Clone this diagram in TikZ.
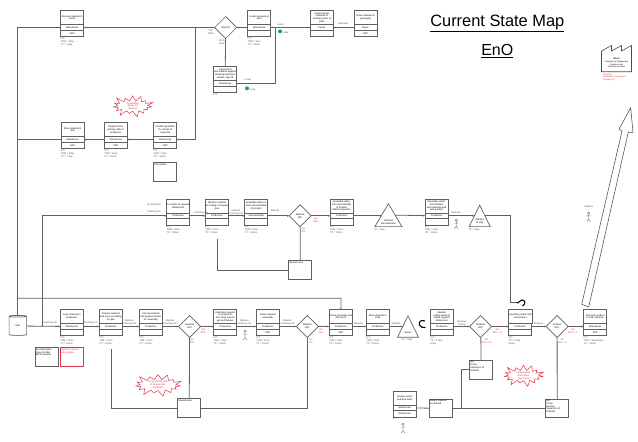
\documentclass[tikz,border=0pt]{standalone}
\usepackage{fontspec}
\setmainfont{Liberation Sans}
\usepackage{xcolor}
\usetikzlibrary{
  arrows.meta, positioning, calc, shapes.geometric, shapes.symbols
}
\definecolor{mapred}{HTML}{DC3545}
\definecolor{mapgreen}{HTML}{1E9E5A}
\newcommand{\tinyfont}{\fontsize{2.4}{2.8}\selectfont}
% place, name, title, middle strip, bottom strip, note
\newcommand{\procbox}[6]{
  \node[proctitle, #1] (#2) {#3};
  \node[procstrip, minimum height=5.6pt, below=0pt of #2] (#2m) {#4};
  \node[procstrip, minimum height=6.4pt, below=0pt of #2m] (#2b) {#5};
  \node[procnote, below=1pt of #2b.south west, anchor=north west] (#2n) {#6};
}
\newcommand{\topbox}[1]{\parbox[c][17pt][t]{21.5pt}{\raggedright #1}}
\tikzset{
  person/.pic={
    \draw[line width=.35pt, black!60] (0,-3.6) circle (1.3)
      (0,-2.3) -- (0,2.2) (-2,-.8) -- (2,-.8) (-1.8,5) -- (0,2.2) -- (1.8,5);
  }
}
\begin{document}
\begin{tikzpicture}[
  x=1pt, y=-1pt,
  every node/.style={font=\tinyfont, align=center, inner sep=0pt, outer sep=0pt},
  proctitle/.style={draw=black!62, line width=.7pt, fill=white, minimum width=23pt,
                    minimum height=14pt, anchor=north west},
  procstrip/.style={draw=black!62, line width=.7pt, fill=white, minimum width=23pt},
  procnote/.style={align=left, text=black!70},
  plainbox/.style={draw=black!62, line width=.7pt, fill=white, minimum width=23pt,
                   minimum height=18.7pt, anchor=north west, align=left},
  check/.style={diamond, draw=black!62, line width=.7pt, fill=white, aspect=1,
                minimum width=22pt, minimum height=22pt},
  stock/.style={isosceles triangle, isosceles triangle stretches, shape border rotate=90,
                draw=black!62, line width=.7pt, fill=white, anchor=lower side,
                minimum width=27pt, minimum height=21.5pt},
  burst/.style={starburst, starburst points=15, starburst point height=7pt,
                draw=mapred, line width=.5pt, text=mapred, fill=white,
                minimum width=44pt, minimum height=21pt},
  tag/.style={text=black!70},
  redtag/.style={text=mapred},
  line/.style={draw=black!62, line width=.8pt},
  arr/.style={line, -{Latex[length=2pt, width=2pt]}},
  dot/.style={circle, fill=mapgreen, minimum size=4pt},
]
  \useasboundingbox (0,0) rectangle (638,442);

  % Title
  \node[font=\fontsize{16.4}{20}\selectfont] (title) at (497.3,23.5) {\underline{Current State Map}};
  \node[font=\fontsize{16}{20}\selectfont] (plant) at (497.3,51) {\underline{EnO}};

  % Top row, runs right to left
  \procbox{at={(60.7,10.7)}}{a1}{Receive material to\\stores}{Warehouse}{SAP}{P/T:\\TRM = 1day\\TP = 1 day}
  \node[check] (d1) at (225.7,27.55) {Inspect?};
  \procbox{at={(247.7,10.7)}}{b1}{Goods received at\\store}{Warehouse}{}{P/T:\\TRM = 4min\\TP = 10min}
  \procbox{right=39.6pt of b1}{b2}{Carrier brings\\materials to\\receiving dock at\\plant}{Carrier}{}{}
  \procbox{right=20.7pt of b2}{b3}{Order material at\\packaging}{Buyer}{SAP}{}
  \procbox{at={(213.7,66.7)}}{c1}{Inspect and\\test material against\\drawings and spec\\sheets; sign off}{Warehouse}{}{P/T:}
  \node[tag] (mail1) at (280.3,25) {e-mail};
  \node[tag] (mail2) at (247.7,80) {e-mail};
  \node[tag] (ship1) at (343.3,24) {Shipment};
  \node[tag] (yes1) at (210.7,32) {Yes\\100\%};
  \node[tag] (no1) at (221.7,42) {100\%\\Pass};
  \node[dot] (dot1) at (280,31.3) {};
  \node[dot] (dot2) at (247,88.3) {};
  \node[tag, right=.5pt of dot1, yshift=-1.5pt] (dotlab1) {1 day};
  \node[tag, right=.5pt of dot2, yshift=-1.5pt] (dotlab2) {1 day};
  \coordinate (split) at (195.7,27.55);
  \coordinate (merge) at (275,27.55);

  \draw[arr] (b3m) -- (b2m);
  \draw[arr] (b2m) -- (b1m);
  \draw[arr] (b1m) -- (d1);
  \draw[arr] (d1) -- (a1m);
  \draw[line] (d1) -- (c1);
  \draw[line] (c1m) -| (merge);

  % Second row
  \procbox{at={(61,122.7)}}{r1}{Store material in\\rack}{Warehouse}{SAP}{P/T:\\TRM = 1day\\TP = 1 day}
  \procbox{right=20.3pt of r1}{r2}{Prepare kit for\\picking order to\\production}{Warehouse}{SAP}{P/T:\\TRM = 5min\\TP = 10min}
  \procbox{right=26.4pt of r2}{r3}{Confirm quantities\\for receipt of\\materials}{Warehouse}{SAP}{P/T:\\TRM = 4min\\TP = 10min}
  \node[plainbox] (n1) at (153.7,162.7) {\topbox{Information}};
  \node[burst] (b1burst) at (132.7,106) {Scheduling\\delays on\\inbound};
  \draw[arr] (split) |- (r3m);
  \draw[arr] (r3m) -- (r2m);
  \draw[arr] (r2m) -- (r1m);

  % Third row
  \procbox{at={(166.7,199)}}{q1}{Cut rollers to required\\dimensions}{Production}{}{P/T:\\TRM = 5min\\TP = 10min}
  \procbox{right=15.7pt of q1}{q2}{Machine material\\according to drawing\\spec}{Production}{}{P/T:\\TRM = 5min\\TP = 10min}
  \procbox{right=16.3pt of q2}{q3}{Assemble rollers to\\form sub-assembly\\of product}{Sub-assembly}{}{P/T:\\TRM = 5min\\TP = 10min}
  \node[check, right=21.4pt of q3m] (dq) {Material\\OK?};
  \procbox{at={(330.2,199)}}{q4}{Assemble rollers\\into sub-assembly\\of product\\before inspection}{Production}{}{P/T:\\TRM = 5min\\TP = 10min}
  \node[stock] (t1) at (388.4,226.6) {Finished\\sub-assembly};
  \procbox{at={(425,199)}}{q5}{Assemble rollers\\into finished\\sub-assembly and\\end product}{Production}{}{P/T:\\TRM = 5min\\TP = 10min}
  \node[stock, minimum width=21pt] (t2) at (479.7,226.6) {Waiting\\to ship};
  \node[plainbox] (rw1) at (288.7,260.7) {\topbox{Rework area}};
  \pic at (456.3,224) {person};
  \pic at (588.7,216.7) {person};
  \node[tag] (log1) at (588.7,207) {Logistics};
  \node[tag] (fg1) at (154,205) {FG Inventory};
  \node[tag] (roll1) at (154,212) {Finishing roll};
  \node[tag] (roll2) at (201,212.5) {Finishing roll};
  \node[tag] (roll3) at (236,212) {Material\\Finishing roll};
  \node[tag] (mat1) at (275,211) {Material};
  \node[tag] (mat2) at (456,212.7) {Material};
  \node[redtag] (pass1) at (315.7,220.5) {Yes\\95\%};
  \node[redtag] (pass2) at (303.7,230.5) {No\\5\%};
  \node[tag] (tq1) at (379.3,229.5) {TP = 1day};
  \node[tag] (tq2) at (474,229.5) {TP = 1day};
  \coordinate (rwend) at (217.3,239);
  \coordinate (hookA) at (510.7,302.7);
  \coordinate (hookB) at (516.7,302.7);
  \coordinate (split2) at (42.3,326.55);

  \draw[arr] (split2) |- (q1m);
  \draw[arr] (q1m) -- (q2m);
  \draw[arr] (q2m) -- (q3m);
  \draw[arr] (q3m) -- (dq);
  \draw[arr] (dq) -- (q4m);
  \draw[arr] (q4m) -- (q4m -| t1.left side);
  \draw[arr] (t1.right side) -- (q5m);
  \draw[arr] (q5m) -- (q5m -| t2.left side);
  \draw[line] (dq) -- (rw1);
  \draw[line] (rw1) -| (rwend);
  \draw[line] (t2.right side) -| (hookA) -- (hookB);
  \draw[line width=1pt] (hookB) .. controls (519,304) and (519,300) .. (522,300)
    .. controls (525.5,300) and (526,304) .. (522.5,306);

  % Fourth row
  \node[cylinder, shape border rotate=90, aspect=.35, draw=black!62, line width=.7pt,
        fill=white, minimum width=17.5pt, minimum height=20pt] (db) at (17.85,326) {SAP};
  \procbox{at={(60.3,309.7)}}{p1}{Issue material to\\production}{Warehouse}{}{P/T:\\TRM = 5min\\TP = 10min}
  \procbox{right=16pt of p1}{p2}{Prepare material\\and issue according\\to spec}{Production}{}{P/T:\\TRM = 5min\\TP = 10min}
  \procbox{right=17pt of p2}{p3}{Cut raw material\\and prepare sheets\\for assembly}{Production}{}{P/T:\\TRM = 5min\\TP = 10min}
  \node[check, right=16.4pt of p3m] (dp1) {Material\\OK?};
  \procbox{at={(213.7,309.7)}}{p4}{Assemble material\\on production\\line using special\\jigs and fixtures}{Production}{}{P/T:\\TRM = 5min\\TP = 10min}
  \procbox{at={(256.3,309.7)}}{p5}{Check material\\assembly}{Production}{SAP}{P/T:\\TRM = 5min\\TP = 10min}
  \node[check, right=17pt of p5m] (dp2) {Material\\OK?};
  \procbox{at={(329.3,309.7)}}{p6}{Check assembly and\\document}{Production}{SAP}{P/T:\\TRM = 5min\\TP = 10min}
  \procbox{right=14pt of p6}{p7}{Move material to\\store}{Production}{}{P/T:\\TRM = 5min\\TP = 10min}
  \node[stock, minimum width=21pt] (t3) at (408,337.3) {Stores};
  \procbox{at={(430.3,309.7)}}{p8}{Material\\cutting needs to\\match required\\dimensions}{Production}{}{P/T:\\TP = 1 day\\setup}
  \node[check, right=16.4pt of p8m] (dp3) {Material\\OK?};
  \procbox{at={(508.3,309.7)}}{p9}{Assemble product into\\end product}{Production}{}{P/T:\\TP = 1 day\\setup}
  \node[check, right=14.4pt of p9m] (dp4) {Product\\OK?};
  \procbox{at={(583.7,309.7)}}{p10}{Ship final product\\to end customer}{Warehouse}{SAP}{P/T:\\TRM = 5min/setup\\TP = 10min}

  \node[plainbox] (n2) at (35,347.7) {\topbox{Documentation\\Copy of order\\Bill of material}};
  \node[plainbox, draw=mapred, text=mapred] (n3) at (60.3,347.7) {\topbox{Quality problems\\with supplier}};
  \node[plainbox] (rw2) at (177.7,398.7) {\topbox{Rework area}};
  \node[plainbox] (rw3) at (469.7,360.3) {\topbox{QA\\Scrap\\Inspection of\\material}};
  \node[plainbox] (rw4) at (545.7,399) {\topbox{QA\\Scrap\\Review\\Inspection of\\material}};
  \node[plainbox] (rw5) at (429.3,399) {\topbox{Return material\\to inbound}};
  \procbox{at={(393.3,391)}}{p11}{Prepare return\\and document}{Warehouse}{Warehouse}{P/T:}
  \node[burst, minimum width=50pt] (burst2) at (158,385) {Long waiting time\\for rework after\\inspection};
  \node[burst] (burst3) at (523.5,375.5) {Long waiting\\time before\\final check};
  \pic at (245,335) {person};
  \pic at (403,428) {person};

  \node[tag] (rl1) at (50,323) {Finishing roll};
  \node[tag] (rl2) at (90.7,322.7) {Finishing roll};
  \node[tag] (rl3) at (129.3,322) {Material\\Finishing roll};
  \node[tag] (rl4) at (170,322) {Material\\Finishing roll};
  \node[tag] (rl5) at (244.3,322) {Material\\Finishing roll};
  \node[tag] (rl6) at (287.3,322) {Material\\Finishing roll};
  \node[tag] (rl7) at (358.7,323.3) {Material};
  \node[tag] (rl8) at (396,323.3) {Material};
  \node[tag] (rl9) at (461.7,323) {Material\\Cutting};
  \node[tag] (rl10) at (538.3,324.3) {Shipped};
  \node[tag] (ts1) at (407,339.5) {TP = 1day};
  \node[redtag] (y1) at (203.3,331) {Yes\\95\%};
  \node[redtag] (y2) at (192.3,341.5) {No\\5\%};
  \node[redtag] (y3) at (321,331) {Yes\\95\%};
  \node[redtag] (y4) at (311,341.5) {No\\5\%};
  \node[redtag] (y5) at (497.3,331) {Yes\\95\% = A};
  \node[redtag] (y6) at (486.7,341.5) {No\\95\% = A};
  \node[redtag] (y7) at (572.7,331) {Yes\\95\% = A};
  \node[redtag] (y8) at (562.3,341.5) {No\\95\% = A};

  \coordinate (rw2end) at (111,349.3);
  \coordinate (bendT) at (341,298.3);

  \draw[line] (a1m) -| (db);
  \draw[line] (r1m) -- (r1m -| db);
  \draw[line] (bendT -| db) -- (bendT) -- (p6);
  \draw[arr] (db) -- (p1m);
  \draw[arr] (p1m) -- (p2m);
  \draw[arr] (p2m) -- (p3m);
  \draw[arr] (p3m) -- (dp1);
  \draw[arr] (dp1) -- (p4m);
  \draw[arr] (p4m) -- (p5m);
  \draw[arr] (p5m) -- (dp2);
  \draw[arr] (dp2) -- (p6m);
  \draw[arr] (p6m) -- (p7m);
  \draw[arr] (p7m) -- (p7m -| t3.left side);
  \draw[arr] (p8m) -- (dp3);
  \draw[arr] (dp3) -- (p9m);
  \draw[arr] (p9m) -- (dp4);
  \draw[arr] (dp4) -- (p10m);
  \draw[line] (dp1) -- (rw2);
  \draw[line] (rw2) -| (rw2end);
  \draw[line] (dp2) |- (rw2);
  \draw[line] (dp3) -- (rw3);
  \draw[line] (dp4) -- (rw4);
  \draw[line] (p11m) -- (rw5);
  \draw[line] (rw5) -- (rw4);
  \draw[line] (rw3) -| ($(rw5.east)+(8.6,0)$);
  \draw[line width=1.1pt] (425,321) .. controls (420,319) and (418.5,323) .. (419.5,325)
    .. controls (420,327) and (423,328) .. (425.5,327.5);

  % Factory
  \draw[line width=.6pt, black!70, fill=white] (601.5,71.7) -- (601.5,51) -- (611.5,45.5) -- (611.5,51)
    -- (621.5,45.5) -- (621.5,51) -- (631.5,45.5) -- (631.5,71.7) -- cycle;
  \node[font=\fontsize{2.1}{2.7}\selectfont] (plantname) at (616.5,63)
    {\textbf{ISO 20}\\Company of Engineering\\Supplier code\\Documented order};
  \node[redtag, align=left, font=\fontsize{2.1}{2.7}\selectfont, anchor=north west] (plantnote) at (603,73.5)
    {Quantity 1\\Installation of Equipment\\Storage 4 W};

  % Big arrow
  \draw[line width=.55pt, black!70, fill=white] (630.7,107.7) -- (633,132.3) -- (628.3,132.2)
    -- (588.7,307) -- (581.7,304.3) -- (622,131) -- (619,129.3) -- cycle;
\end{tikzpicture}
\end{document}
